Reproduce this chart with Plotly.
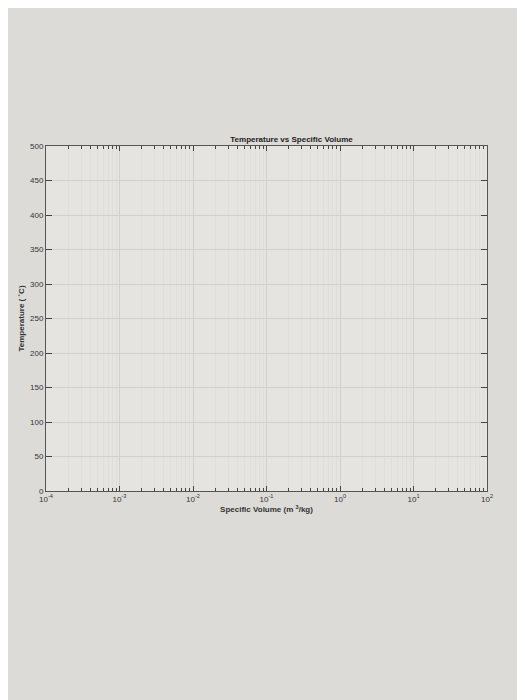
import plotly.graph_objects as go

# empty chart: only axes ranges and ticks
x_ticks = [1e-4, 1e-3, 1e-2, 1e-1, 1e0, 1e1, 1e2]
x_labels = ["10<sup>-4</sup>", "10<sup>-3</sup>", "10<sup>-2</sup>", "10<sup>-1</sup>",
            "10<sup>0</sup>", "10<sup>1</sup>", "10<sup>2</sup>"]
y_ticks = [0, 50, 100, 150, 200, 250, 300, 350, 400, 450, 500]

fig = go.Figure()
fig.add_trace(go.Scatter(x=[x_ticks[0], x_ticks[-1]], y=[y_ticks[0], y_ticks[-1]],
                         mode="markers", marker=dict(opacity=0), hoverinfo="skip",
                         showlegend=False))

fig.update_layout(
    width=525, height=700,
    paper_bgcolor="#dddbd8", plot_bgcolor="#e6e4e1",
    margin=dict(l=30, r=46, t=138, b=217),
    font=dict(family="Liberation Sans", size=8, color="#333"),
    title=dict(text="<b>Temperature vs Specific Volume</b>", x=0.54, xanchor="center",
               y=1 - 134 / 700, yanchor="bottom", font=dict(size=8, color="#222")),
)
fig.update_xaxes(type="log", range=[-4, 2], tickvals=x_ticks, ticktext=x_labels,
                 showgrid=True, gridcolor="#d2d0cd", ticks="inside", ticklen=5,
                 minor=dict(ticks="inside", ticklen=3, dtick="D1", showgrid=True,
                            gridcolor="#e0dedb"),
                 showline=True, linecolor="#555", mirror="ticks",
                 title=dict(text="<b>Specific Volume (m <sup>3</sup>/kg)</b>", standoff=2,
                            font=dict(size=8)),
                 tickfont=dict(size=8), zeroline=False)
fig.update_yaxes(range=[0, 500], tickvals=y_ticks,
                 showgrid=True, gridcolor="#d2d0cd", ticks="inside", ticklen=6,
                 showline=True, linecolor="#555", mirror="ticks",
                 title=dict(text="<b>Temperature ( ˚C)</b>", standoff=4, font=dict(size=8)),
                 tickfont=dict(size=8), zeroline=False)

fig.write_html("out.html")
